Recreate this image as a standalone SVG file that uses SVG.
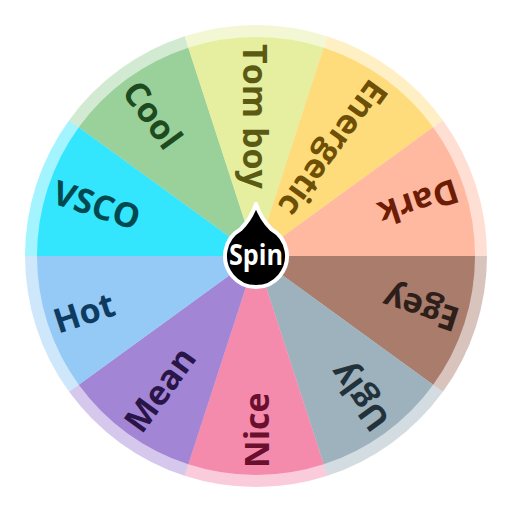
<svg xmlns="http://www.w3.org/2000/svg" width="512" height="512" viewBox="0 0 512 512">
<style>
.lbl{font-family:"Open Sans","Noto Sans",sans-serif;font-weight:700;font-size:34px}
.rim{fill-opacity:0.45}
</style>
<defs>
<path id="w" d="M256 256 L464.28 188.32 A219 219 0 0 1 464.28 323.68 Z"/>
<path id="wo" d="M256 256 L475.69 184.62 A231 231 0 0 1 475.69 327.38 Z"/>
</defs>
<rect width="512" height="512" fill="#ffffff"/>
<g id="rim">
<use href="#wo" class="rim" fill="#a97c6c" transform="rotate(18 256 256)"/>
<use href="#wo" class="rim" fill="#9eb2bd" transform="rotate(54 256 256)"/>
<use href="#wo" class="rim" fill="#f48bac" transform="rotate(90 256 256)"/>
<use href="#wo" class="rim" fill="#a385d6" transform="rotate(126 256 256)"/>
<use href="#wo" class="rim" fill="#95c9f6" transform="rotate(162 256 256)"/>
<use href="#wo" class="rim" fill="#33e6fd" transform="rotate(198 256 256)"/>
<use href="#wo" class="rim" fill="#9ad19a" transform="rotate(234 256 256)"/>
<use href="#wo" class="rim" fill="#e6ee9f" transform="rotate(270 256 256)"/>
<use href="#wo" class="rim" fill="#fedc7c" transform="rotate(306 256 256)"/>
<use href="#wo" class="rim" fill="#ffb9a0" transform="rotate(342 256 256)"/>
</g>
<g id="seg-egey"><use href="#w" fill="#a97c6c" transform="rotate(18 256 256)"/><text class="lbl" fill="#2e1f1a" transform="rotate(18 256 256) translate(468 256) rotate(180)" dy="0.38em">Egey</text></g>
<g id="seg-ugly"><use href="#w" fill="#9eb2bd" transform="rotate(54 256 256)"/><text class="lbl" fill="#23323a" transform="rotate(54 256 256) translate(468 256) rotate(180)" dy="0.38em">Ugly</text></g>
<g id="seg-nice"><use href="#w" fill="#f48bac" transform="rotate(90 256 256)"/><text class="lbl" fill="#6a0f2e" transform="rotate(90 256 256) translate(468 256) rotate(180)" dy="0.38em">Nice</text></g>
<g id="seg-mean"><use href="#w" fill="#a385d6" transform="rotate(126 256 256)"/><text class="lbl" fill="#2a1548" transform="rotate(126 256 256) translate(468 256) rotate(180)" dy="0.38em">Mean</text></g>
<g id="seg-hot"><use href="#w" fill="#95c9f6" transform="rotate(162 256 256)"/><text class="lbl" fill="#0d3c60" transform="rotate(162 256 256) translate(468 256) rotate(180)" dy="0.38em">Hot</text></g>
<g id="seg-vsco"><use href="#w" fill="#33e6fd" transform="rotate(198 256 256)"/><text class="lbl" fill="#01494f" transform="rotate(198 256 256) translate(468 256) rotate(180)" dy="0.38em">VSCO</text></g>
<g id="seg-cool"><use href="#w" fill="#9ad19a" transform="rotate(234 256 256)"/><text class="lbl" fill="#1e4a20" transform="rotate(234 256 256) translate(468 256) rotate(180)" dy="0.38em">Cool</text></g>
<g id="seg-tomboy"><use href="#w" fill="#e6ee9f" transform="rotate(270 256 256)"/><text class="lbl" fill="#5a5a14" transform="rotate(270 256 256) translate(468 256) rotate(180)" dy="0.38em">Tom boy</text></g>
<g id="seg-energetic"><use href="#w" fill="#fedc7c" transform="rotate(306 256 256)"/><text class="lbl" fill="#6e4f06" transform="rotate(306 256 256) translate(468 256) rotate(180)" dy="0.38em">Energetic</text></g>
<g id="seg-dark"><use href="#w" fill="#ffb9a0" transform="rotate(342 256 256)"/><text class="lbl" fill="#6d1d05" transform="rotate(342 256 256) translate(468 256) rotate(180)" dy="0.38em">Dark</text></g>
<g id="spin">
<path d="M256 204 Q261 219 271.5 229.2 A31 31 0 1 1 240.5 229.2 Q251 219 256 204 Z" fill="#000000" stroke="#ffffff" stroke-width="4" stroke-linejoin="round"/>
<text x="256" y="265" text-anchor="middle" font-family="Open Sans, Noto Sans, sans-serif" font-weight="700" font-size="29" textLength="54" lengthAdjust="spacingAndGlyphs" fill="#ffffff">Spin</text>
</g>
</svg>
